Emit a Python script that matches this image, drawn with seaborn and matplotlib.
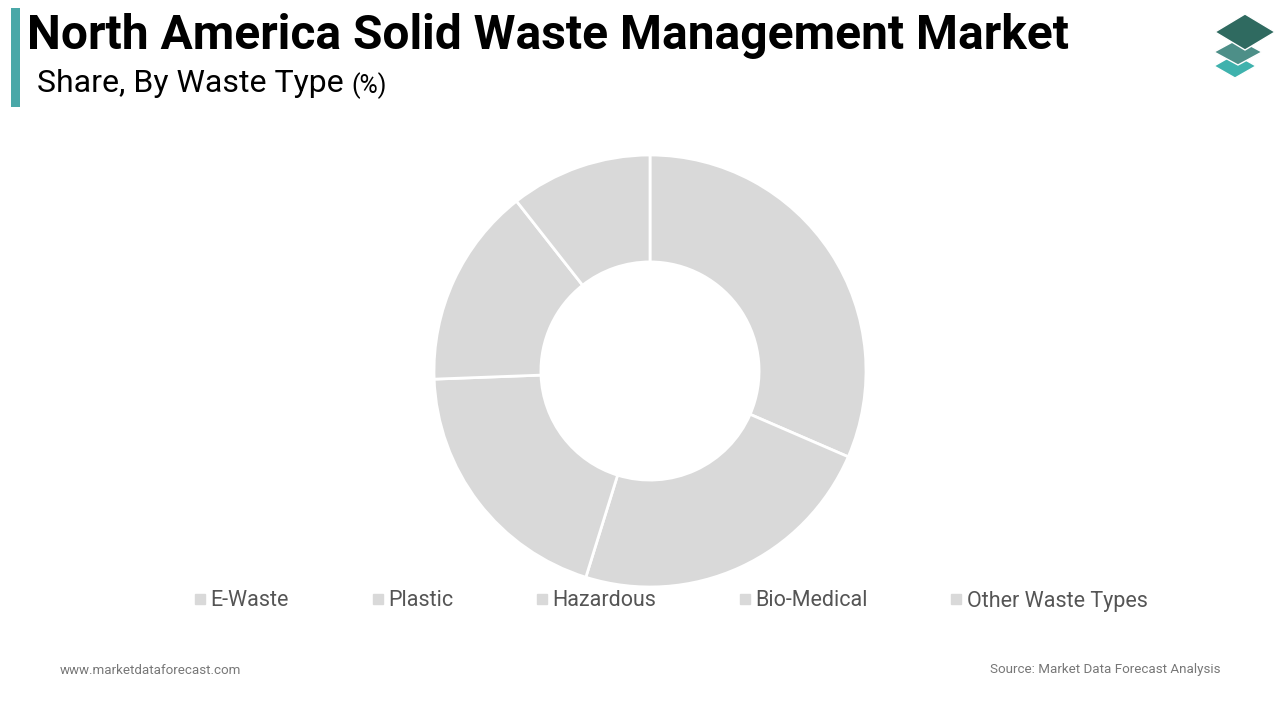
import matplotlib.pyplot as plt
import seaborn as sns
from matplotlib.lines import Line2D
from matplotlib.patches import Polygon, Rectangle

waste_types = ["E-Waste", "Plastic", "Hazardous", "Bio-Medical", "Other Waste Types"]
shares = [31.5, 23.3, 19.6, 15.0, 10.6]

TITLE = "North America Solid Waste Management Market"
SUBTITLE = "Share, By Waste Type"
SLICE_COLOR = "#d9d9d9"
TEAL = "#4aa8a8"


def draw_logo(fig):
    # three stacked tiles, bottom to top
    tiles = [
        ((1235, 66), 21, 12, "#3fb2ad"),
        ((1238, 52), 24, 13, "#4d8f88"),
        ((1245, 32), 30, 18, "#2f6a60"),
    ]
    for (cx, cy), hw, hh, col in tiles:
        pts = [(cx - hw, cy), (cx, cy - hh), (cx + hw, cy), (cx, cy + hh)]
        pts = [(x / 1280, 1 - y / 720) for x, y in pts]
        fig.patches.append(Polygon(pts, closed=True, transform=fig.transFigure,
                                   facecolor=col, edgecolor="white", linewidth=1))


def main():
    sns.set_theme(style="white")
    plt.rcParams["font.family"] = ["Roboto", "DejaVu Sans"]

    fig = plt.figure(figsize=(12.8, 7.2), dpi=100)
    fig.patch.set_facecolor("white")

    # donut centred at (650, 371) px, outer radius 216 px
    cx, cy, r = 650, 371, 216
    ax = fig.add_axes([(cx - r) / 1280, (720 - cy - r) / 720, 2 * r / 1280, 2 * r / 720])
    colors = sns.color_palette([SLICE_COLOR] * len(shares))
    ax.pie(
        shares,
        colors=colors,
        startangle=90,
        counterclock=False,
        radius=1.0,
        wedgeprops=dict(width=0.495, edgecolor="white", linewidth=2),
    )
    ax.set_xlim(-1, 1)
    ax.set_ylim(-1, 1)
    ax.set_aspect("auto")
    ax.axis("off")

    # legend row
    handles = [
        Line2D([0], [0], marker="s", linestyle="", markersize=7.5,
               markerfacecolor=c, markeredgecolor=c)
        for c in colors
    ]
    leg = fig.legend(
        handles, waste_types, loc="center", bbox_to_anchor=(671 / 1280, 1 - 601 / 720),
        ncol=5, frameon=False, fontsize=15.5, handlelength=0.55, handletextpad=0.2,
        columnspacing=3.85,
    )
    for t in leg.get_texts():
        t.set_color("#555555")

    # header
    fig.patches.append(Rectangle((11 / 1280, 1 - 107 / 720), 9 / 1280, 99 / 720,
                                 transform=fig.transFigure, facecolor=TEAL, edgecolor="none"))
    fig.text(27 / 1280, 1 - 36 / 720, TITLE, fontsize=34.5, fontweight="bold",
             color="black", va="center", ha="left")
    sub = fig.text(37 / 1280, 1 - 84 / 720, SUBTITLE, fontsize=23,
                   color="black", va="center", ha="left")
    fig.canvas.draw()
    bb = sub.get_window_extent()
    fig.text(bb.x1 / 1280 + 8 / 1280, 1 - 86 / 720, "(%)", fontsize=18,
             color="black", va="center", ha="left")
    draw_logo(fig)

    # footer
    fig.text(60 / 1280, 1 - 670 / 720, "www.marketdataforecast.com", fontsize=9.6,
             color="#777777", va="center", ha="left")
    fig.text(1220 / 1280, 1 - 670 / 720, "Source: Market Data Forecast Analysis",
             fontsize=9.6, color="#777777", va="center", ha="right")

    fig.savefig("out.png", dpi=100, facecolor="white")
    plt.close(fig)


if __name__ == "__main__":
    main()
